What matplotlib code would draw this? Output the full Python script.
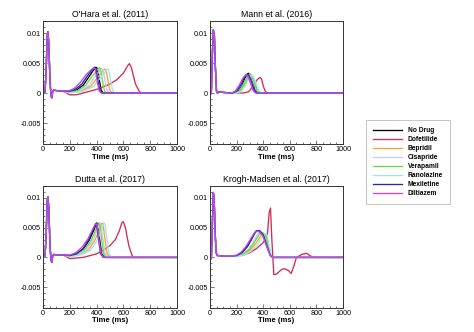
import numpy as np
import matplotlib
matplotlib.use('Agg')
import matplotlib.pyplot as plt
from matplotlib.ticker import MultipleLocator

plt.rcParams['font.family'] = ['Liberation Sans', 'DejaVu Sans']
plt.rcParams['axes.unicode_minus'] = False

drugs = ['No Drug', 'Dofetilide', 'Bepridil', 'Cisapride', 'Verapamil',
         'Ranolazine', 'Mexiletine', 'Diltiazem']
colors = ['#000000', '#d42a55', '#f4a23c', '#c9c9f2', '#66dd44',
          '#9fe6e6', '#2525b0', '#c545ee']

titles = ["O'Hara et al. (2011)", 'Mann et al. (2016)',
          'Dutta et al. (2017)', 'Krogh-Madsen et al. (2017)']

# common depolarisation part, per model
ohara_pre_t = [0, 15, 24, 31, 37, 44, 52, 60, 66, 72, 80, 100, 150]
ohara_pre_v = [0, 0.0002, 0.004, 0.0095, 0.0102, 0.008, 0.002, -0.0005, -0.0008, 0.0002, 0.0005, 0.0004, 0.0003]
mann_pre_t = [0, 10, 17, 25, 33, 41, 49, 56, 70, 100, 150]
mann_pre_v = [-0.0003, 0.0, 0.006, 0.0105, 0.0095, 0.004, 0.0003, 0.0, 0.0002, 0.0001, 0.0]
dutta_pre_t = [0, 15, 24, 31, 37, 44, 52, 60, 66, 72, 80, 100, 150]
dutta_pre_v = [0, 0.0002, 0.004, 0.0095, 0.0102, 0.008, 0.002, -0.0005, -0.0008, 0.0002, 0.0005, 0.0004, 0.0004]
krogh_pre_t = [0, 10, 17, 25, 31, 39, 46, 55, 70, 100, 150]
krogh_pre_v = [-0.0003, -0.0002, 0.005, 0.0109, 0.01, 0.004, 0.0008, 0.0003, 0.0003, 0.0002, 0.0002]

# T-wave part, per drug (same order as drugs)
ohara_t = [
    [200, 250, 300, 340, 370, 395, 405, 420, 435, 450, 1000],
    [200, 250, 300, 400, 500, 550, 600, 630, 645, 660, 690, 720, 740, 1000],
    [200, 280, 360, 400, 437, 460, 470, 485, 500, 515, 1000],
    [200, 270, 340, 380, 415, 438, 448, 463, 478, 493, 1000],
    [200, 260, 320, 360, 395, 418, 428, 443, 458, 473, 1000],
    [200, 290, 380, 420, 457, 480, 490, 505, 520, 535, 1000],
    [200, 240, 290, 330, 360, 385, 395, 410, 425, 440, 1000],
    [200, 235, 280, 320, 355, 380, 390, 405, 420, 435, 1000],
]
ohara_v = [
    [0.0002, 0.0005, 0.0013, 0.0026, 0.0036, 0.0043, 0.0041, 0.0022, 0.0004, 0, 0],
    [-0.0003, -0.0003, 0.0, 0.0006, 0.0015, 0.0022, 0.0033, 0.0045, 0.0049, 0.0042, 0.0015, 0.0002, 0, 0],
    [0.0001, 0.0003, 0.0012, 0.0024, 0.0034, 0.004, 0.0038, 0.002, 0.0004, 0, 0],
    [0.0001, 0.0003, 0.0012, 0.0025, 0.0035, 0.0041, 0.0039, 0.002, 0.0004, 0, 0],
    [0.0002, 0.0004, 0.0013, 0.0026, 0.0036, 0.0042, 0.004, 0.0021, 0.0004, 0, 0],
    [0.0, 0.0002, 0.0011, 0.0023, 0.0033, 0.004, 0.0038, 0.002, 0.0004, 0, 0],
    [0.0003, 0.0006, 0.0015, 0.0028, 0.0037, 0.0043, 0.0041, 0.002, 0.0003, 0, 0],
    [0.0004, 0.0008, 0.0018, 0.003, 0.0038, 0.0042, 0.004, 0.0019, 0.0003, 0, 0],
]

mann_t = [
    [180, 210, 240, 265, 288, 300, 320, 340, 360, 1000],
    [250, 290, 320, 350, 375, 388, 400, 415, 430, 1000],
    [195, 225, 255, 282, 305, 317, 337, 357, 377, 1000],
    [185, 215, 245, 272, 295, 307, 327, 347, 367, 1000],
    [190, 220, 250, 277, 300, 312, 332, 352, 372, 1000],
    [200, 232, 262, 289, 312, 324, 344, 364, 384, 1000],
    [170, 200, 230, 258, 280, 292, 312, 332, 350, 1000],
    [160, 190, 220, 248, 270, 282, 302, 322, 340, 1000],
]
mann_v = [
    [0, 0.0002, 0.0012, 0.0026, 0.0033, 0.0031, 0.002, 0.0006, 0, 0],
    [0, 0.0002, 0.001, 0.0021, 0.0026, 0.0023, 0.0012, 0.0003, 0, 0],
    [0, 0.0002, 0.0011, 0.0023, 0.003, 0.0028, 0.0018, 0.0005, 0, 0],
    [0, 0.0002, 0.0012, 0.0024, 0.0031, 0.0029, 0.0018, 0.0005, 0, 0],
    [0, 0.0002, 0.0012, 0.0025, 0.0032, 0.003, 0.0019, 0.0005, 0, 0],
    [0, 0.0002, 0.0011, 0.0023, 0.003, 0.0028, 0.0018, 0.0005, 0, 0],
    [0, 0.0003, 0.0013, 0.0026, 0.0032, 0.003, 0.0018, 0.0005, 0, 0],
    [0, 0.0003, 0.0013, 0.0025, 0.0031, 0.0029, 0.0018, 0.0005, 0, 0],
]

dutta_t = [
    [200, 250, 300, 345, 378, 400, 408, 423, 438, 458, 1000],
    [200, 300, 400, 450, 500, 540, 570, 590, 600, 615, 640, 665, 680, 1000],
    [200, 270, 340, 385, 418, 440, 448, 463, 478, 498, 1000],
    [200, 260, 325, 370, 403, 425, 433, 448, 463, 483, 1000],
    [200, 255, 315, 360, 393, 415, 423, 438, 453, 473, 1000],
    [200, 280, 355, 400, 433, 455, 463, 478, 493, 513, 1000],
    [200, 250, 300, 340, 370, 392, 400, 415, 430, 450, 1000],
    [200, 245, 290, 335, 368, 395, 403, 418, 433, 453, 1000],
]
dutta_v = [
    [0.0003, 0.0006, 0.0014, 0.0029, 0.0045, 0.0058, 0.0056, 0.003, 0.0006, 0, 0],
    [-0.0002, 0.0, 0.0006, 0.0012, 0.002, 0.003, 0.0045, 0.0059, 0.006, 0.005, 0.002, 0.0003, 0, 0],
    [0.0002, 0.0005, 0.0013, 0.0028, 0.0044, 0.0058, 0.0056, 0.003, 0.0006, 0, 0],
    [0.0002, 0.0005, 0.0013, 0.0028, 0.0044, 0.0058, 0.0056, 0.003, 0.0006, 0, 0],
    [0.0003, 0.0006, 0.0014, 0.0029, 0.0045, 0.0058, 0.0056, 0.003, 0.0006, 0, 0],
    [0.0001, 0.0004, 0.0012, 0.0027, 0.0043, 0.0058, 0.0056, 0.003, 0.0006, 0, 0],
    [0.0003, 0.0006, 0.0015, 0.003, 0.0045, 0.0057, 0.0055, 0.003, 0.0006, 0, 0],
    [0.0004, 0.0008, 0.0017, 0.0031, 0.0046, 0.0057, 0.0055, 0.003, 0.0006, 0, 0],
]

krogh_t = [
    [200, 240, 280, 310, 335, 350, 370, 400, 430, 455, 470, 1000],
    [200, 250, 300, 350, 400, 430, 445, 455, 465, 480, 500, 540, 560, 590, 610, 630, 650, 690, 725, 760, 780, 1000],
    [200, 250, 300, 340, 375, 395, 410, 425, 440, 458, 470, 1000],
    [200, 245, 290, 325, 355, 375, 395, 415, 435, 456, 470, 1000],
    [200, 248, 295, 332, 365, 385, 400, 420, 438, 457, 470, 1000],
    [200, 255, 305, 350, 390, 410, 422, 432, 445, 460, 472, 1000],
    [200, 238, 278, 310, 338, 355, 372, 400, 430, 455, 470, 1000],
    [200, 235, 272, 305, 330, 345, 365, 395, 428, 454, 470, 1000],
]
krogh_v = [
    [0.0003, 0.0008, 0.0018, 0.003, 0.0041, 0.0045, 0.0045, 0.0038, 0.0018, 0.0003, 0, 0],
    [0.0002, 0.0004, 0.0008, 0.0015, 0.0025, 0.0035, 0.0075, 0.0083, 0.003, -0.0029, -0.0028, -0.002, -0.0019, -0.0022, -0.0027, -0.0015, 0, 0.0005, 0.0007, 0.0002, 0, 0],
    [0.0002, 0.0005, 0.0012, 0.0022, 0.0034, 0.004, 0.004, 0.0033, 0.0018, 0.0003, 0, 0],
    [0.0002, 0.0006, 0.0014, 0.0026, 0.0038, 0.0043, 0.0042, 0.0034, 0.0018, 0.0003, 0, 0],
    [0.0002, 0.0006, 0.0013, 0.0025, 0.0037, 0.0042, 0.0041, 0.0034, 0.0018, 0.0003, 0, 0],
    [0.0001, 0.0004, 0.001, 0.002, 0.0033, 0.004, 0.004, 0.0036, 0.002, 0.0003, 0, 0],
    [0.0003, 0.0008, 0.0018, 0.003, 0.0041, 0.0045, 0.0045, 0.0038, 0.0018, 0.0003, 0, 0],
    [0.0004, 0.0009, 0.0019, 0.0031, 0.004, 0.0044, 0.0044, 0.0037, 0.0017, 0.0003, 0, 0],
]

panels = [
    (ohara_pre_t, ohara_pre_v, ohara_t, ohara_v),
    (mann_pre_t, mann_pre_v, mann_t, mann_v),
    (dutta_pre_t, dutta_pre_v, dutta_t, dutta_v),
    (krogh_pre_t, krogh_pre_v, krogh_t, krogh_v),
]

fig = plt.figure(figsize=(4.74, 3.32), dpi=100)
W, H = 474, 332
boxes = [(43, 21, 134, 123), (210, 21, 133, 123),
         (43, 186, 134, 122), (210, 186, 133, 122)]

handles = []
for i, (pt, pv, tt, tv) in enumerate(panels):
    x0, y0, w, h = boxes[i]
    ax = fig.add_axes([x0 / W, 1 - (y0 + h) / H, w / W, h / H])
    for j, d in enumerate(drugs):
        t = list(pt) + tt[j]
        v = list(pv) + tv[j]
        ln, = ax.plot(t, v, color=colors[j], lw=0.95, label=d)
        if i == 0:
            handles.append(ln)
    ax.set_xlim(0, 1000)
    ax.set_ylim(-0.0085, 0.012)
    ax.set_xticks([0, 200, 400, 600, 800, 1000])
    ax.set_yticks([-0.005, 0, 0.005, 0.01])
    ax.set_yticklabels(['-0.005', '0', '0.005', '0.01'])
    ax.xaxis.set_minor_locator(MultipleLocator(50))
    ax.yaxis.set_minor_locator(MultipleLocator(0.001))
    ax.tick_params(which='both', direction='in', labelsize=5.2, pad=1.5,
                   width=0.5, colors='#444444', labelcolor='black')
    ax.tick_params(which='major', length=3)
    ax.tick_params(which='minor', length=1.5)
    for s in ax.spines.values():
        s.set_linewidth(0.7)
        s.set_color('#333333')
    ax.set_title(titles[i], fontsize=6.3, pad=3)
    ax.set_xlabel('Time (ms)', fontsize=5.5, fontweight='bold', labelpad=0.3)

leg = fig.legend(handles, drugs, loc='center', bbox_to_anchor=(408 / W, 1 - 162 / H),
                 fontsize=4.8, frameon=True, fancybox=False, handlelength=4.4,
                 labelspacing=0.3, borderpad=1.0, handletextpad=0.8, borderaxespad=0)
leg.get_frame().set_edgecolor('#aaaaaa')
leg.get_frame().set_linewidth(0.6)
for txt in leg.get_texts():
    txt.set_fontweight('bold')

fig.savefig('out.png', dpi=100)
